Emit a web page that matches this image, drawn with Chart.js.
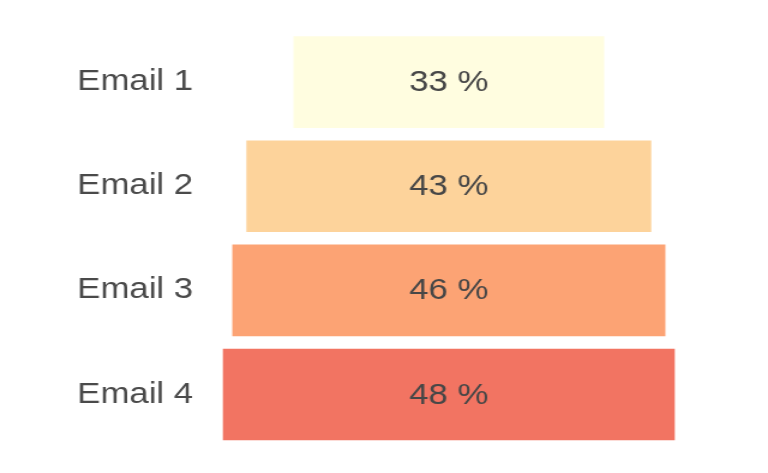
<!DOCTYPE html>
<html>
<head>
<meta charset="utf-8">
<script src="https://cdn.jsdelivr.net/npm/chart.js@4"></script>
<style>
  html,body{margin:0;padding:0;background:#fff;}
  canvas{display:block;}
</style>
</head>
<body>
<!-- drawn at 640 wide, shown at 768 wide: the reference text is stretched sideways -->
<canvas id="funnel" width="640" height="473" style="width:768px;height:473px;"></canvas>
<script>
// Funnel data
const stages = ['Email 1', 'Email 2', 'Email 3', 'Email 4'];
const rates = [33, 43, 46, 48];
const stageColors = ['#FFFDE0', '#FDD39B', '#FCA374', '#F27462'];

// centred bars: each stage spans -v/2 .. v/2
const spans = rates.map(v => [-v/2, v/2]);

// value labels in the middle of each bar
const centerLabels = {
  id: 'centerLabels',
  afterDatasetsDraw(chart){
    const ctx = chart.ctx;
    const meta = chart.getDatasetMeta(0);
    const xs = chart.scales.x;
    ctx.save();
    ctx.font = '29px "Liberation Sans", Arial, sans-serif';
    ctx.fillStyle = '#474747';
    ctx.textAlign = 'center';
    ctx.textBaseline = 'middle';
    meta.data.forEach((bar, i)=>{
      ctx.fillText(rates[i] + ' %', xs.getPixelForValue(0), bar.y + 1);
    });
    ctx.restore();
  }
};

new Chart(document.getElementById('funnel'), {
  type: 'bar',
  data: {
    labels: stages,
    datasets: [{
      data: spans,
      backgroundColor: stageColors,
      borderWidth: 0,
      barPercentage: 0.88,
      categoryPercentage: 1
    }]
  },
  options: {
    indexAxis: 'y',
    responsive: false,
    devicePixelRatio: 1,
    animation: false,
    layout: {padding: {top: 30, bottom: 21, left: 0, right: 0}},
    plugins: {
      legend: {display: false},
      tooltip: {enabled: false}
    },
    scales: {
      x: {
        display: false,
        min: -26,
        max: 33.9
      },
      y: {
        border: {display: false},
        grid: {display: false, drawTicks: false},
        ticks: {
          padding: 9,
          color: '#4a4a4a',
          font: {family: '"Liberation Sans", Arial, sans-serif', size: 29}
        },
        afterFit: s => { s.width = 170; }
      }
    }
  },
  plugins: [centerLabels]
});
</script>
</body>
</html>
